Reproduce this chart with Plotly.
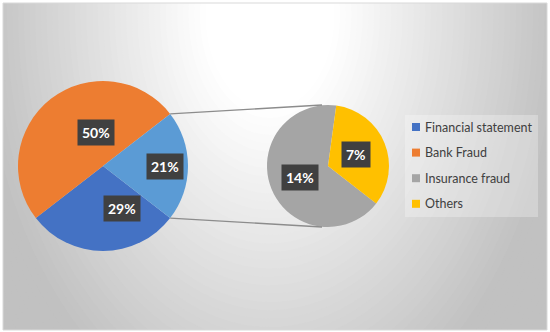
import math
import plotly.graph_objects as go

# main pie
main_labels = ["Financial statement", "Bank Fraud", "Other"]
main_values = [29, 50, 21]
main_colors = ["#4472C4", "#ED7D31", "#5B9BD5"]

# secondary pie (split of "Other")
sub_labels = ["Insurance fraud", "Others"]
sub_values = [14, 7]
sub_colors = ["#A5A5A5", "#FFC000"]

legend_labels = ["Financial statement", "Bank Fraud", "Insurance fraud", "Others"]
legend_colors = ["#4472C4", "#ED7D31", "#A5A5A5", "#FFC000"]

W, H = 550, 332
other_share = main_values[2] / sum(main_values)
rot = 90 + other_share * 180  # "Other" slice centred at 3 o'clock

# pie geometry in pixels
c1, r1 = (103, 166), 85
c2, r2 = (328, 166), 61


def px(x, y):
    return x / W, 1 - y / H


def dom(c, r):
    return dict(x=[(c[0] - r) / W, (c[0] + r) / W],
                y=[1 - (c[1] + r) / H, 1 - (c[1] - r) / H])


fig = go.Figure()
fig.add_trace(go.Pie(labels=main_labels, values=main_values, sort=False,
                     direction="clockwise", rotation=rot, domain=dom(c1, r1),
                     marker=dict(colors=main_colors, line=dict(width=0)),
                     textinfo="none", hoverinfo="label+percent", showlegend=False))
fig.add_trace(go.Pie(labels=sub_labels, values=sub_values, sort=False,
                     direction="clockwise", rotation=rot, domain=dom(c2, r2),
                     marker=dict(colors=sub_colors, line=dict(width=0)),
                     textinfo="none", hoverinfo="label", showlegend=False))

# background radial gradient
shapes = []
steps = 70
for i in range(steps + 1):
    d = 1.7 - i * (1.7 - 0.2) / steps
    t = min(max((d - 0.25) / 0.85, 0), 1)
    g = int(round(255 - 62 * t))
    a, b = 265 * d, 390 * d
    cx, cy = 270, 15
    shapes.append(dict(type="circle", xref="paper", yref="paper", layer="below",
                       x0=(cx - a) / W, x1=(cx + a) / W,
                       y0=1 - (cy + b) / H, y1=1 - (cy - b) / H,
                       fillcolor=f"rgb({g},{g},{g})", line=dict(width=0)))
# white outside frame
for x0, y0, x1, y1 in [(-5, -5, 3, H + 5), (547, -5, W + 5, H + 5),
                       (-5, -5, W + 5, 3), (-5, 330, W + 5, H + 5)]:
    shapes.append(dict(type="rect", xref="paper", yref="paper", layer="below",
                       x0=x0 / W, x1=x1 / W, y0=1 - y1 / H, y1=1 - y0 / H,
                       fillcolor="white", line=dict(width=0)))
shapes.append(dict(type="rect", xref="paper", yref="paper", layer="below",
                   x0=3 / W, x1=547 / W, y0=1 - 330 / H, y1=1 - 3 / H,
                   line=dict(color="#d9d9d9", width=1)))

# connector lines from "Other" slice edges to the secondary pie
for ang, yy in [(rot - other_share * 360, c2[1] - r2), (rot, c2[1] + r2)]:
    a = math.radians(ang)
    x0, y0 = c1[0] + r1 * math.sin(a), c1[1] - r1 * math.cos(a)
    p0, p1 = px(x0, y0), px(c2[0] - 6, yy)
    shapes.append(dict(type="line", xref="paper", yref="paper",
                       x0=p0[0], y0=p0[1], x1=p1[0], y1=p1[1],
                       line=dict(color="#8c8c8c", width=1.3)))

# data labels
annotations = []


def add_labels(vals, c, r, total_pct):
    tot = sum(vals)
    start = rot
    for v in vals:
        span = v / tot * 360
        mid = math.radians(start + span / 2)
        x = c[0] + 0.5 * r * math.sin(mid)
        y = c[1] - 0.5 * r * math.cos(mid)
        p = px(x, y)
        pct = round(v / total_pct * 100)
        annotations.append(dict(x=p[0], y=p[1], xref="paper", yref="paper",
                                text=f"{pct}%", showarrow=False,
                                font=dict(family="Lato", size=14, color="white",
                                          weight="bold"),
                                bgcolor="#404040", borderpad=4))
        start += span


add_labels(main_values, c1, r1, sum(main_values))
add_labels(sub_values, c2, r2, sum(main_values))

# legend (drawn by hand to match spacing)
shapes.append(dict(type="rect", xref="paper", yref="paper", layer="below",
                   x0=405 / W, x1=538 / W, y0=1 - 217 / H, y1=1 - 115 / H,
                   fillcolor="rgba(255,255,255,0.28)", line=dict(width=0)))
for i, (lab, col) in enumerate(zip(legend_labels, legend_colors)):
    yc = 127 + i * 25.6
    shapes.append(dict(type="rect", xref="paper", yref="paper",
                       x0=412 / W, x1=420 / W, y0=1 - (yc + 4) / H, y1=1 - (yc - 4) / H,
                       fillcolor=col, line=dict(width=0)))
    annotations.append(dict(x=423 / W, y=1 - yc / H, xref="paper", yref="paper",
                            xanchor="left", yanchor="middle", text=lab,
                            showarrow=False,
                            font=dict(family="Lato", size=12.5, color="#404040")))

fig.update_layout(
    width=W, height=H,
    margin=dict(l=0, r=0, t=0, b=0),
    paper_bgcolor="white", plot_bgcolor="rgba(0,0,0,0)",
    showlegend=False,
    shapes=shapes, annotations=annotations,
)

fig.write_html("out.html", config={"displayModeBar": False},
               post_script="document.body.style.margin='0';")
